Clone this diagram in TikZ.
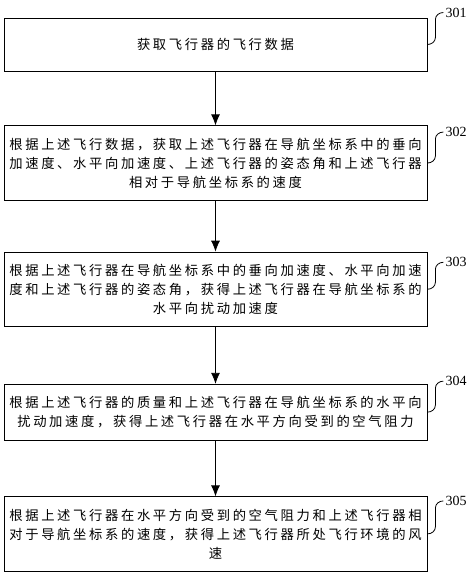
\documentclass[tikz,border=0pt]{standalone}
\usepackage{fontspec}
\setmainfont{Liberation Serif}
\newfontfamily\cjk[LetterSpace=20]{Noto Sans CJK SC}
\usetikzlibrary{positioning, arrows.meta, calc}
\tikzstyle{stepbox} = [rectangle, draw, line width=0.8pt, text width=415pt, inner xsep=4pt, inner ysep=12pt, minimum height=53pt, align=center, font=\cjk\fontsize{13.3}{19}\selectfont]
\tikzstyle{arrow} = [line width=0.8pt, -{Latex[length=11pt,width=9pt]}]
\tikzstyle{tag} = [inner sep=2pt, font=\fontsize{14}{14}\selectfont]
\tikzstyle{tagline} = [line width=0.8pt]

\begin{document}
\begin{tikzpicture}[x=1pt, y=1pt]
  \useasboundingbox (0,0) rectangle (474,-579);
  \node (s1) [stepbox] at (215.5,-44.5) {获取飞行器的飞行数据};
  \node (s2) [stepbox, below=54pt of s1] {根据上述飞行数据，获取上述飞行器在导航坐标系中的垂向\\加速度、水平向加速度、上述飞行器的姿态角和上述飞行器\\相对于导航坐标系的速度};
  \node (s3) [stepbox, below=51pt of s2] {根据上述飞行器在导航坐标系中的垂向加速度、水平向加速\\度和上述飞行器的姿态角，获得上述飞行器在导航坐标系的\\水平向扰动加速度};
  \node (s4) [stepbox, below=57pt of s3] {根据上述飞行器的质量和上述飞行器在导航坐标系的水平向\\扰动加速度，获得上述飞行器在水平方向受到的空气阻力};
  \node (s5) [stepbox, below=56pt of s4] {根据上述飞行器在水平方向受到的空气阻力和上述飞行器相\\对于导航坐标系的速度，获得上述飞行器所处飞行环境的风\\速};

  \draw [arrow] (s1) -- (s2);
  \draw [arrow] (s2) -- (s3);
  \draw [arrow] (s3) -- (s4);
  \draw [arrow] (s4) -- (s5);

  % step numbers
  \foreach \i/\h in {1/32, 2/31, 3/27, 4/31, 5/33} {
    \node (t\i) [tag, anchor=west] at ($(s\i.east)+(16,\h)$) {30\i};
    \draw [tagline] (s\i.east) to[out=0,in=-90] ($(s\i.east)+(8,7)$) -- ($(s\i.east)+(8,\h-7)$) to[out=90,in=180] (t\i.west);
  }
\end{tikzpicture}
\end{document}
